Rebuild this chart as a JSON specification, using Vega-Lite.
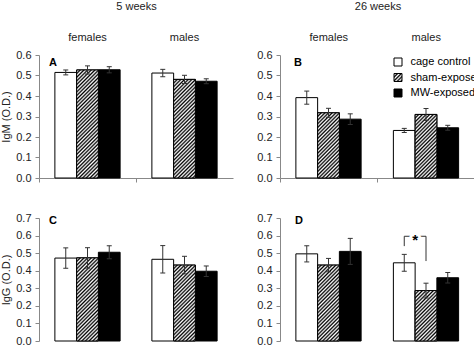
{
  "$schema": "https://vega.github.io/schema/vega-lite/v6.json",
  "padding": 0,
  "params": [
    {"name": "stripes", "value": [{"offset":0,"color":"#000"},{"offset":0.01389,"color":"#fff"},{"offset":0.02778,"color":"#000"},{"offset":0.04167,"color":"#fff"},{"offset":0.05556,"color":"#000"},{"offset":0.06944,"color":"#fff"},{"offset":0.08333,"color":"#000"},{"offset":0.09722,"color":"#fff"},{"offset":0.11111,"color":"#000"},{"offset":0.125,"color":"#fff"},{"offset":0.13889,"color":"#000"},{"offset":0.15278,"color":"#fff"},{"offset":0.16667,"color":"#000"},{"offset":0.18056,"color":"#fff"},{"offset":0.19444,"color":"#000"},{"offset":0.20833,"color":"#fff"},{"offset":0.22222,"color":"#000"},{"offset":0.23611,"color":"#fff"},{"offset":0.25,"color":"#000"},{"offset":0.26389,"color":"#fff"},{"offset":0.27778,"color":"#000"},{"offset":0.29167,"color":"#fff"},{"offset":0.30556,"color":"#000"},{"offset":0.31944,"color":"#fff"},{"offset":0.33333,"color":"#000"},{"offset":0.34722,"color":"#fff"},{"offset":0.36111,"color":"#000"},{"offset":0.375,"color":"#fff"},{"offset":0.38889,"color":"#000"},{"offset":0.40278,"color":"#fff"},{"offset":0.41667,"color":"#000"},{"offset":0.43056,"color":"#fff"},{"offset":0.44444,"color":"#000"},{"offset":0.45833,"color":"#fff"},{"offset":0.47222,"color":"#000"},{"offset":0.48611,"color":"#fff"},{"offset":0.5,"color":"#000"},{"offset":0.51389,"color":"#fff"},{"offset":0.52778,"color":"#000"},{"offset":0.54167,"color":"#fff"},{"offset":0.55556,"color":"#000"},{"offset":0.56944,"color":"#fff"},{"offset":0.58333,"color":"#000"},{"offset":0.59722,"color":"#fff"},{"offset":0.61111,"color":"#000"},{"offset":0.625,"color":"#fff"},{"offset":0.63889,"color":"#000"},{"offset":0.65278,"color":"#fff"},{"offset":0.66667,"color":"#000"},{"offset":0.68056,"color":"#fff"},{"offset":0.69444,"color":"#000"},{"offset":0.70833,"color":"#fff"},{"offset":0.72222,"color":"#000"},{"offset":0.73611,"color":"#fff"},{"offset":0.75,"color":"#000"},{"offset":0.76389,"color":"#fff"},{"offset":0.77778,"color":"#000"},{"offset":0.79167,"color":"#fff"},{"offset":0.80556,"color":"#000"},{"offset":0.81944,"color":"#fff"},{"offset":0.83333,"color":"#000"},{"offset":0.84722,"color":"#fff"},{"offset":0.86111,"color":"#000"},{"offset":0.875,"color":"#fff"},{"offset":0.88889,"color":"#000"},{"offset":0.90278,"color":"#fff"},{"offset":0.91667,"color":"#000"},{"offset":0.93056,"color":"#fff"},{"offset":0.94444,"color":"#000"},{"offset":0.95833,"color":"#fff"},{"offset":0.97222,"color":"#000"},{"offset":0.98611,"color":"#fff"},{"offset":1,"color":"#000"}]}
  ],
  "datasets": {
    "A": [
      {"sex":"females","group":"cage control","mean":0.515,"lo":0.503,"hi":0.527},
      {"sex":"females","group":"sham-exposed","mean":0.527,"lo":0.507,"hi":0.547},
      {"sex":"females","group":"MW-exposed","mean":0.528,"lo":0.513,"hi":0.543},
      {"sex":"males","group":"cage control","mean":0.512,"lo":0.494,"hi":0.530},
      {"sex":"males","group":"sham-exposed","mean":0.481,"lo":0.461,"hi":0.501},
      {"sex":"males","group":"MW-exposed","mean":0.472,"lo":0.460,"hi":0.484}
    ],
    "B": [
      {"sex":"females","group":"cage control","mean":0.392,"lo":0.360,"hi":0.424},
      {"sex":"females","group":"sham-exposed","mean":0.318,"lo":0.296,"hi":0.340},
      {"sex":"females","group":"MW-exposed","mean":0.287,"lo":0.261,"hi":0.313},
      {"sex":"males","group":"cage control","mean":0.232,"lo":0.222,"hi":0.242},
      {"sex":"males","group":"sham-exposed","mean":0.310,"lo":0.281,"hi":0.339},
      {"sex":"males","group":"MW-exposed","mean":0.245,"lo":0.233,"hi":0.257}
    ],
    "C": [
      {"sex":"females","group":"cage control","mean":0.472,"lo":0.414,"hi":0.530},
      {"sex":"females","group":"sham-exposed","mean":0.473,"lo":0.415,"hi":0.531},
      {"sex":"females","group":"MW-exposed","mean":0.505,"lo":0.468,"hi":0.542},
      {"sex":"males","group":"cage control","mean":0.465,"lo":0.387,"hi":0.543},
      {"sex":"males","group":"sham-exposed","mean":0.432,"lo":0.382,"hi":0.482},
      {"sex":"males","group":"MW-exposed","mean":0.397,"lo":0.367,"hi":0.427}
    ],
    "D": [
      {"sex":"females","group":"cage control","mean":0.496,"lo":0.450,"hi":0.542},
      {"sex":"females","group":"sham-exposed","mean":0.432,"lo":0.394,"hi":0.470},
      {"sex":"females","group":"MW-exposed","mean":0.510,"lo":0.436,"hi":0.584},
      {"sex":"males","group":"cage control","mean":0.445,"lo":0.397,"hi":0.493},
      {"sex":"males","group":"sham-exposed","mean":0.287,"lo":0.245,"hi":0.329},
      {"sex":"males","group":"MW-exposed","mean":0.360,"lo":0.330,"hi":0.390}
    ],
    "bracket": [
      {"sex":"males","group":"cage control","v":0.540,"o":1},
      {"sex":"males","group":"cage control","v":0.596,"o":2},
      {"sex":"males","group":"sham-exposed","v":0.596,"o":3},
      {"sex":"males","group":"sham-exposed","v":0.455,"o":4}
    ],
    "star": [
      {"sex":"males","group":"cage control","v":0.596,"label":"*"}
    ]
  },
  "columns": 2,
  "spacing": {"row": 29, "column": 23},
  "concat": [
    {
      "width": 194, "height": 123,
      "data": {"name": "A"},
      "title": {"text": "A", "frame": "group", "anchor": "start", "dx": 10, "offset": -67.5, "baseline": "top", "fontSize": 11, "fontWeight": "bold", "color": "#000"},
      "layer": [
        {
          "mark": {"type": "bar", "stroke": "#000", "strokeWidth": 1},
          "encoding": {
            "x": {"field": "sex", "type": "nominal", "scale": {"domain": ["females", "males"], "paddingInner": 0, "paddingOuter": 0}, "axis": {"orient": "bottom", "labels": false, "title": null, "bandPosition": 0}},
            "xOffset": {"field": "group", "type": "nominal", "scale": {"domain": ["cage control", "sham-exposed", "MW-exposed"], "paddingInner": 0, "paddingOuter": 0.73}},
            "y": {"field": "mean", "type": "quantitative", "scale": {"domain": [0, 0.6], "nice": false}, "axis": {"orient": "left", "title": "IgM (O.D.)", "values": [0, 0.1, 0.2, 0.3, 0.4, 0.5, 0.6], "format": ".1f", "titlePadding": 4, "labelPadding": 4, "labelOverlap": false}},
            "fill": {"field": "group", "type": "nominal", "scale": {"domain": ["cage control", "sham-exposed", "MW-exposed"], "range": ["#fff", {"expr": "{gradient: 'linear', x1: 0, y1: 0, x2: 8.27, y2: 8.27, stops: stripes}"}, "#000"]},
              "legend": {"orient": "none", "legendX": 353.5, "legendY": 1.5, "title": null, "symbolType": "square", "symbolSize": 64, "labelFontSize": 11, "labelColor": "#000", "rowPadding": 2.5, "labelOffset": 7, "padding": 0, "labelLimit": 0, "symbolStrokeColor": "#000", "symbolStrokeWidth": 1}}
          }
        },
        {
          "transform": [{"filter": "datum.group === 'sham-exposed'"}],
          "mark": {"type": "bar", "stroke": "#000", "strokeWidth": 1, "fill": {"expr": "{gradient: 'linear', x1: 0, y1: 0, x2: 132.37 * 21.8 / (475.2 + pow(datum.mean * 205, 2)), y2: 132.37 * datum.mean * 205 / (475.2 + pow(datum.mean * 205, 2)), stops: stripes}"}},
          "encoding": {
            "x": {"field": "sex", "type": "nominal", "axis": null},
            "xOffset": {"field": "group", "type": "nominal"},
            "y": {"field": "mean", "type": "quantitative", "axis": {"orient": "left", "title": "IgM (O.D.)", "values": [0, 0.1, 0.2, 0.3, 0.4, 0.5, 0.6], "format": ".1f", "titlePadding": 4, "labelPadding": 4, "labelOverlap": false}}
          }
        },
        {
          "mark": {"type": "rule", "color": "#333", "strokeWidth": 1},
          "encoding": {
            "x": {"field": "sex", "type": "nominal", "axis": {"orient": "top", "domain": false, "ticks": false, "labelPadding": 13, "labelAngle": 0, "title": "5 weeks", "titlePadding": 20}},
            "xOffset": {"field": "group", "type": "nominal"},
            "y": {"field": "lo", "type": "quantitative", "axis": {"orient": "left", "title": "IgM (O.D.)", "values": [0, 0.1, 0.2, 0.3, 0.4, 0.5, 0.6], "format": ".1f", "titlePadding": 4, "labelPadding": 4, "labelOverlap": false}},
            "y2": {"field": "hi"}
          }
        },
        {
          "mark": {"type": "tick", "color": "#333", "size": 5, "thickness": 1, "opacity": 1},
          "encoding": {
            "x": {"field": "sex", "type": "nominal", "axis": null},
            "xOffset": {"field": "group", "type": "nominal"},
            "y": {"field": "lo", "type": "quantitative", "axis": {"orient": "left", "title": "IgM (O.D.)", "values": [0, 0.1, 0.2, 0.3, 0.4, 0.5, 0.6], "format": ".1f", "titlePadding": 4, "labelPadding": 4, "labelOverlap": false}}
          }
        },
        {
          "mark": {"type": "tick", "color": "#333", "size": 5, "thickness": 1, "opacity": 1},
          "encoding": {
            "x": {"field": "sex", "type": "nominal", "axis": null},
            "xOffset": {"field": "group", "type": "nominal"},
            "y": {"field": "hi", "type": "quantitative", "axis": {"orient": "left", "title": "IgM (O.D.)", "values": [0, 0.1, 0.2, 0.3, 0.4, 0.5, 0.6], "format": ".1f", "titlePadding": 4, "labelPadding": 4, "labelOverlap": false}}
          }
        }
      ]
    },
    {
      "width": 195, "height": 123,
      "data": {"name": "B"},
      "title": {"text": "B", "frame": "group", "anchor": "start", "dx": 14, "offset": -67.5, "baseline": "top", "fontSize": 11, "fontWeight": "bold", "color": "#000"},
      "layer": [
        {
          "mark": {"type": "bar", "stroke": "#000", "strokeWidth": 1},
          "encoding": {
            "x": {"field": "sex", "type": "nominal", "scale": {"domain": ["females", "males"], "paddingInner": 0, "paddingOuter": 0}, "axis": {"orient": "bottom", "labels": false, "title": null, "bandPosition": 0}},
            "xOffset": {"field": "group", "type": "nominal", "scale": {"domain": ["cage control", "sham-exposed", "MW-exposed"], "paddingInner": 0, "paddingOuter": 0.73}},
            "y": {"field": "mean", "type": "quantitative", "scale": {"domain": [0, 0.6], "nice": false}, "axis": {"orient": "left", "title": null, "values": [0, 0.1, 0.2, 0.3, 0.4, 0.5, 0.6], "format": ".1f", "labelPadding": 4, "labelOverlap": false}},
            "fill": {"field": "group", "type": "nominal"}
          }
        },
        {
          "transform": [{"filter": "datum.group === 'sham-exposed'"}],
          "mark": {"type": "bar", "stroke": "#000", "strokeWidth": 1, "fill": {"expr": "{gradient: 'linear', x1: 0, y1: 0, x2: 132.37 * 21.9 / (479.6 + pow(datum.mean * 205, 2)), y2: 132.37 * datum.mean * 205 / (479.6 + pow(datum.mean * 205, 2)), stops: stripes}"}},
          "encoding": {
            "x": {"field": "sex", "type": "nominal", "axis": null},
            "xOffset": {"field": "group", "type": "nominal"},
            "y": {"field": "mean", "type": "quantitative", "axis": {"orient": "left", "title": null, "values": [0, 0.1, 0.2, 0.3, 0.4, 0.5, 0.6], "format": ".1f", "labelPadding": 4, "labelOverlap": false}}
          }
        },
        {
          "mark": {"type": "rule", "color": "#333", "strokeWidth": 1},
          "encoding": {
            "x": {"field": "sex", "type": "nominal", "axis": {"orient": "top", "domain": false, "ticks": false, "labelPadding": 13, "labelAngle": 0, "title": "26 weeks", "titlePadding": 20}},
            "xOffset": {"field": "group", "type": "nominal"},
            "y": {"field": "lo", "type": "quantitative", "axis": {"orient": "left", "title": null, "values": [0, 0.1, 0.2, 0.3, 0.4, 0.5, 0.6], "format": ".1f", "labelPadding": 4, "labelOverlap": false}},
            "y2": {"field": "hi"}
          }
        },
        {
          "mark": {"type": "tick", "color": "#333", "size": 5, "thickness": 1, "opacity": 1},
          "encoding": {
            "x": {"field": "sex", "type": "nominal", "axis": null},
            "xOffset": {"field": "group", "type": "nominal"},
            "y": {"field": "lo", "type": "quantitative", "axis": {"orient": "left", "title": null, "values": [0, 0.1, 0.2, 0.3, 0.4, 0.5, 0.6], "format": ".1f", "labelPadding": 4, "labelOverlap": false}}
          }
        },
        {
          "mark": {"type": "tick", "color": "#333", "size": 5, "thickness": 1, "opacity": 1},
          "encoding": {
            "x": {"field": "sex", "type": "nominal", "axis": null},
            "xOffset": {"field": "group", "type": "nominal"},
            "y": {"field": "hi", "type": "quantitative", "axis": {"orient": "left", "title": null, "values": [0, 0.1, 0.2, 0.3, 0.4, 0.5, 0.6], "format": ".1f", "labelPadding": 4, "labelOverlap": false}}
          }
        }
      ]
    },
    {
      "width": 194, "height": 123,
      "data": {"name": "C"},
      "title": {"text": "C", "frame": "group", "anchor": "start", "dx": 10, "offset": -14, "baseline": "top", "fontSize": 11, "fontWeight": "bold", "color": "#000"},
      "layer": [
        {
          "mark": {"type": "bar", "stroke": "#000", "strokeWidth": 1},
          "encoding": {
            "x": {"field": "sex", "type": "nominal", "scale": {"domain": ["females", "males"], "paddingInner": 0, "paddingOuter": 0}, "axis": {"orient": "bottom", "labels": false, "title": null, "bandPosition": 0}},
            "xOffset": {"field": "group", "type": "nominal", "scale": {"domain": ["cage control", "sham-exposed", "MW-exposed"], "paddingInner": 0, "paddingOuter": 0.73}},
            "y": {"field": "mean", "type": "quantitative", "scale": {"domain": [0, 0.7], "nice": false}, "axis": {"orient": "left", "title": "IgG (O.D.)", "values": [0, 0.1, 0.2, 0.3, 0.4, 0.5, 0.6, 0.7], "format": ".1f", "titlePadding": 4, "labelPadding": 4, "labelOverlap": false}},
            "fill": {"field": "group", "type": "nominal"}
          }
        },
        {
          "transform": [{"filter": "datum.group === 'sham-exposed'"}],
          "mark": {"type": "bar", "stroke": "#000", "strokeWidth": 1, "fill": {"expr": "{gradient: 'linear', x1: 0, y1: 0, x2: 132.37 * 21.8 / (475.2 + pow(datum.mean * 175.7, 2)), y2: 132.37 * datum.mean * 175.7 / (475.2 + pow(datum.mean * 175.7, 2)), stops: stripes}"}},
          "encoding": {
            "x": {"field": "sex", "type": "nominal", "axis": null},
            "xOffset": {"field": "group", "type": "nominal"},
            "y": {"field": "mean", "type": "quantitative", "axis": {"orient": "left", "title": "IgG (O.D.)", "values": [0, 0.1, 0.2, 0.3, 0.4, 0.5, 0.6, 0.7], "format": ".1f", "titlePadding": 4, "labelPadding": 4, "labelOverlap": false}}
          }
        },
        {
          "mark": {"type": "rule", "color": "#333", "strokeWidth": 1},
          "encoding": {
            "x": {"field": "sex", "type": "nominal", "axis": null},
            "xOffset": {"field": "group", "type": "nominal"},
            "y": {"field": "lo", "type": "quantitative", "axis": {"orient": "left", "title": "IgG (O.D.)", "values": [0, 0.1, 0.2, 0.3, 0.4, 0.5, 0.6, 0.7], "format": ".1f", "titlePadding": 4, "labelPadding": 4, "labelOverlap": false}},
            "y2": {"field": "hi"}
          }
        },
        {
          "mark": {"type": "tick", "color": "#333", "size": 5, "thickness": 1, "opacity": 1},
          "encoding": {
            "x": {"field": "sex", "type": "nominal", "axis": null},
            "xOffset": {"field": "group", "type": "nominal"},
            "y": {"field": "lo", "type": "quantitative", "axis": {"orient": "left", "title": "IgG (O.D.)", "values": [0, 0.1, 0.2, 0.3, 0.4, 0.5, 0.6, 0.7], "format": ".1f", "titlePadding": 4, "labelPadding": 4, "labelOverlap": false}}
          }
        },
        {
          "mark": {"type": "tick", "color": "#333", "size": 5, "thickness": 1, "opacity": 1},
          "encoding": {
            "x": {"field": "sex", "type": "nominal", "axis": null},
            "xOffset": {"field": "group", "type": "nominal"},
            "y": {"field": "hi", "type": "quantitative", "axis": {"orient": "left", "title": "IgG (O.D.)", "values": [0, 0.1, 0.2, 0.3, 0.4, 0.5, 0.6, 0.7], "format": ".1f", "titlePadding": 4, "labelPadding": 4, "labelOverlap": false}}
          }
        }
      ]
    },
    {
      "width": 195, "height": 123,
      "data": {"name": "D"},
      "title": {"text": "D", "frame": "group", "anchor": "start", "dx": 15, "offset": -14, "baseline": "top", "fontSize": 11, "fontWeight": "bold", "color": "#000"},
      "layer": [
        {
          "mark": {"type": "bar", "stroke": "#000", "strokeWidth": 1},
          "encoding": {
            "x": {"field": "sex", "type": "nominal", "scale": {"domain": ["females", "males"], "paddingInner": 0, "paddingOuter": 0}, "axis": {"orient": "bottom", "labels": false, "title": null, "bandPosition": 0}},
            "xOffset": {"field": "group", "type": "nominal", "scale": {"domain": ["cage control", "sham-exposed", "MW-exposed"], "paddingInner": 0, "paddingOuter": 0.73}},
            "y": {"field": "mean", "type": "quantitative", "scale": {"domain": [0, 0.7], "nice": false}, "axis": {"orient": "left", "title": null, "values": [0, 0.1, 0.2, 0.3, 0.4, 0.5, 0.6, 0.7], "format": ".1f", "labelPadding": 4, "labelOverlap": false}},
            "fill": {"field": "group", "type": "nominal"}
          }
        },
        {
          "transform": [{"filter": "datum.group === 'sham-exposed'"}],
          "mark": {"type": "bar", "stroke": "#000", "strokeWidth": 1, "fill": {"expr": "{gradient: 'linear', x1: 0, y1: 0, x2: 132.37 * 21.9 / (479.6 + pow(datum.mean * 175.7, 2)), y2: 132.37 * datum.mean * 175.7 / (479.6 + pow(datum.mean * 175.7, 2)), stops: stripes}"}},
          "encoding": {
            "x": {"field": "sex", "type": "nominal", "axis": null},
            "xOffset": {"field": "group", "type": "nominal"},
            "y": {"field": "mean", "type": "quantitative", "axis": {"orient": "left", "title": null, "values": [0, 0.1, 0.2, 0.3, 0.4, 0.5, 0.6, 0.7], "format": ".1f", "labelPadding": 4, "labelOverlap": false}}
          }
        },
        {
          "mark": {"type": "rule", "color": "#333", "strokeWidth": 1},
          "encoding": {
            "x": {"field": "sex", "type": "nominal", "axis": null},
            "xOffset": {"field": "group", "type": "nominal"},
            "y": {"field": "lo", "type": "quantitative", "axis": {"orient": "left", "title": null, "values": [0, 0.1, 0.2, 0.3, 0.4, 0.5, 0.6, 0.7], "format": ".1f", "labelPadding": 4, "labelOverlap": false}},
            "y2": {"field": "hi"}
          }
        },
        {
          "mark": {"type": "tick", "color": "#333", "size": 5, "thickness": 1, "opacity": 1},
          "encoding": {
            "x": {"field": "sex", "type": "nominal", "axis": null},
            "xOffset": {"field": "group", "type": "nominal"},
            "y": {"field": "lo", "type": "quantitative", "axis": {"orient": "left", "title": null, "values": [0, 0.1, 0.2, 0.3, 0.4, 0.5, 0.6, 0.7], "format": ".1f", "labelPadding": 4, "labelOverlap": false}}
          }
        },
        {
          "mark": {"type": "tick", "color": "#333", "size": 5, "thickness": 1, "opacity": 1},
          "encoding": {
            "x": {"field": "sex", "type": "nominal", "axis": null},
            "xOffset": {"field": "group", "type": "nominal"},
            "y": {"field": "hi", "type": "quantitative", "axis": {"orient": "left", "title": null, "values": [0, 0.1, 0.2, 0.3, 0.4, 0.5, 0.6, 0.7], "format": ".1f", "labelPadding": 4, "labelOverlap": false}}
          }
        },
        {
          "data": {"name": "bracket"},
          "mark": {"type": "line", "color": "#333", "strokeWidth": 1},
          "encoding": {
            "x": {"field": "sex", "type": "nominal", "axis": null},
            "xOffset": {"field": "group", "type": "nominal"},
            "y": {"field": "v", "type": "quantitative", "axis": {"orient": "left", "title": null, "values": [0, 0.1, 0.2, 0.3, 0.4, 0.5, 0.6, 0.7], "format": ".1f", "labelPadding": 4, "labelOverlap": false}},
            "order": {"field": "o", "type": "quantitative"}
          }
        },
        {
          "data": {"name": "star"},
          "mark": {"type": "text", "dx": 11, "dy": 4, "fontSize": 15, "fontWeight": "bold", "fill": "#fff", "stroke": "#fff", "strokeWidth": 6, "baseline": "middle", "align": "center"},
          "encoding": {
            "x": {"field": "sex", "type": "nominal", "axis": null},
            "xOffset": {"field": "group", "type": "nominal"},
            "y": {"field": "v", "type": "quantitative", "axis": {"orient": "left", "title": null, "values": [0, 0.1, 0.2, 0.3, 0.4, 0.5, 0.6, 0.7], "format": ".1f", "labelPadding": 4, "labelOverlap": false}},
            "text": {"field": "label"}
          }
        },
        {
          "data": {"name": "star"},
          "mark": {"type": "text", "dx": 11, "dy": 4, "fontSize": 15, "fontWeight": "bold", "color": "#000", "baseline": "middle", "align": "center"},
          "encoding": {
            "x": {"field": "sex", "type": "nominal", "axis": null},
            "xOffset": {"field": "group", "type": "nominal"},
            "y": {"field": "v", "type": "quantitative", "axis": {"orient": "left", "title": null, "values": [0, 0.1, 0.2, 0.3, 0.4, 0.5, 0.6, 0.7], "format": ".1f", "labelPadding": 4, "labelOverlap": false}},
            "text": {"field": "label"}
          }
        }
      ]
    }
  ],
  "config": {
    "font": "Liberation Sans",
    "view": {"stroke": null},
    "axis": {"grid": false, "domainColor": "#888", "tickColor": "#888", "labelColor": "#222", "labelFontSize": 11, "titleFontSize": 11, "titleFontWeight": "normal", "titleColor": "#222", "tickSize": 4}
  }
}
